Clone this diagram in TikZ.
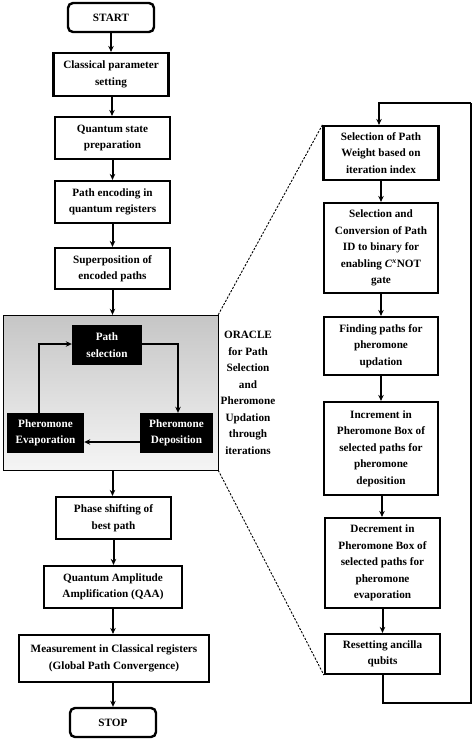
\documentclass[tikz,border=0pt]{standalone}
\usepackage{fontspec}
\setmainfont{Liberation Serif}
\usetikzlibrary{arrows.meta,positioning,calc}
\begin{document}
\begin{tikzpicture}[x=1pt,y=-1pt,
  every node/.style={font=\bfseries\fontsize{11.2}{16.5}\selectfont, align=center, inner sep=1pt},
  box/.style={draw, line width=2.2pt, minimum width=#1, fill=white},
  termbox/.style={draw, line width=2.4pt, rounded corners=5pt, minimum width=86pt, minimum height=29pt, fill=white},
  blk/.style={fill=black, text=white, minimum width=#1, minimum height=40pt},
  arr/.style={line width=2pt, -{Stealth[length=6pt,width=5.5pt]}},
  ln/.style={line width=2pt},
  dsh/.style={line width=0.9pt, dash pattern=on 2.2pt off 1.5pt}
]
\useasboundingbox (0,0) rectangle (474,740);
\fill[white] (0,0) rectangle (474,740);

% left column
\node[termbox] (start) at (111,17.5) {START};
\node[box=115pt, minimum height=43pt] (cls) at (111,74.5) {Classical parameter\\setting};
\node[box=115pt, minimum height=42pt] (qsp) at (112.5,138) {Quantum state\\preparation};
\node[box=115pt, minimum height=42pt] (pen) at (112.5,202) {Path encoding in\\quantum registers};
\node[box=115pt, minimum height=41pt] (sup) at (112.5,268.5) {Superposition of\\encoded paths};

\shade[top color=gray!45, bottom color=gray!8, draw=black, line width=1pt] (3,315) rectangle (218,470);
\node[minimum width=215pt, minimum height=155pt, inner sep=0pt] (orc) at (110.5,392.5) {};

\node[blk=70pt] (psel) at (107,345) {Path\\selection};
\node[blk=77pt] (pev) at (45.5,433) {Pheromone\\Evaporation};
\node[blk=73pt] (pdp) at (176.5,433) {Pheromone\\Deposition};

\node[box=115pt, minimum height=42pt] (phs) at (113.5,518) {Phase shifting of\\best path};
\node[box=138pt, minimum height=42pt] (qaa) at (113,587) {Quantum Amplitude\\Amplification (QAA)};
\node[box=190pt, minimum height=47pt] (mea) at (114,658.5) {Measurement in Classical registers\\(Global Path Convergence)};
\node[termbox] (stop) at (113,722.5) {STOP};

\draw[arr] (start.south) -- (start.south |- cls.north);
\draw[arr] ([xshift=1pt]cls.south) -- ([xshift=1pt]cls.south |- qsp.north);
\draw[arr] (qsp.south) -- (qsp.south |- pen.north);
\draw[arr] (pen.south) -- (pen.south |- sup.north);
\draw[arr] (sup.south) -- (sup.south |- orc.north);
\draw[arr] (sup.south |- orc.south) -- (sup.south |- phs.north);
\draw[arr] (phs.south) -- (phs.south |- qaa.north);
\draw[arr] (qaa.south) -- (qaa.south |- mea.north);
\draw[arr] (qaa.south |- mea.south) -- (qaa.south |- stop.north);

% inner loop
\draw[arr] ([xshift=-6.5pt]pev.north) |- ([yshift=1pt]psel.west);
\draw[arr] ([yshift=1pt]psel.east) -| ([xshift=1.5pt]pdp.north);
\draw[arr] ([yshift=-9pt]pdp.west) -- ([yshift=-9pt]pev.east);

\node (ortxt) at (248,393) {ORACLE\\for Path\\Selection\\and\\Pheromone\\Updation\\through\\iterations};

% right column
\node[box=115pt, minimum height=54pt] (r1) at (381,153) {Selection of Path\\Weight based on\\iteration index};
\node[box=114pt, minimum height=90pt] (r2) at (381,248) {Selection and\\Conversion of Path\\ID to binary for\\enabling \textit{C}\textsuperscript{\textit{x}}NOT\\gate};
\node[box=114pt, minimum height=58pt] (r3) at (381,346) {Finding paths for\\pheromone\\updation};
\node[box=114pt, minimum height=93pt] (r4) at (381,448.5) {Increment in\\Pheromone Box of\\selected paths for\\pheromone\\deposition};
\node[box=115pt, minimum height=90pt] (r5) at (382.5,563) {Decrement in\\Pheromone Box of\\selected paths for\\pheromone\\evaporation};
\node[box=115pt, minimum height=40pt] (r6) at (382.5,654) {Resetting ancilla\\qubits};

\draw[arr] (r1.south) -- (r1.south |- r2.north);
\draw[arr] (r2.south) -- (r2.south |- r3.north);
\draw[arr] (r3.south) -- (r3.south |- r4.north);
\draw[arr] ([xshift=1pt]r4.south) -- ([xshift=1pt]r4.south |- r5.north);
\draw[arr] (r5.south) -- (r5.south |- r6.north);

\coordinate (lb) at (471,703);
\coordinate (rt) at (471,103);
\draw[ln] (r6.south) |- (lb) -- (rt);
\draw[arr] (rt) -| ([xshift=-2pt]r1.north);

% dashed zoom lines
\draw[dsh] (orc.north east) -- (r1.north west);
\draw[dsh] (orc.south east) -- (r6.south west);
\end{tikzpicture}
\end{document}
